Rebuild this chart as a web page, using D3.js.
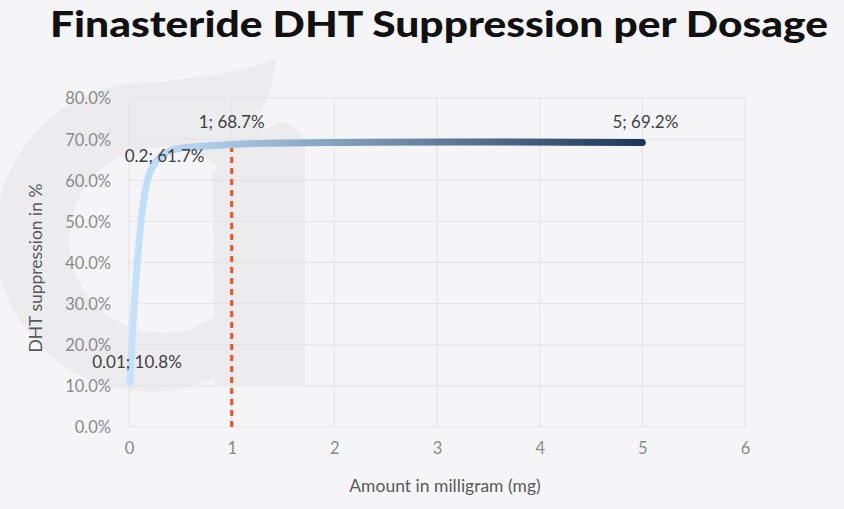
<!DOCTYPE html>
<html>
<head>
<meta charset="utf-8">
<script src="https://cdn.jsdelivr.net/npm/d3@7"></script>
<style>
  body { margin: 0; background: #f5f5f7; }
  svg { display: block; }
</style>
</head>
<body>
<div id="chart"></div>
<script>
// data
var doses = [0.01, 0.2, 1, 5];            // mg
var suppression = [10.8, 61.7, 68.7, 69.2]; // %
var pointLabels = ["0.01; 10.8%", "0.2; 61.7%", "1; 68.7%", "5; 69.2%"];
var xTicks = [0, 1, 2, 3, 4, 5, 6];
var yTicks = [0, 10, 20, 30, 40, 50, 60, 70, 80];
var markerDose = 1;

// label nudges (px) relative to each point
var labelDx = [7, 15, 0, 3];
var labelDy = [-15, -11, -16, -14];

var width = 844, height = 509;
var margin = {left: 129, right: 99, top: 98, bottom: 82};

var svg = d3.select("#chart").append("svg")
  .attr("width", width)
  .attr("height", height)
  .style("background", "#f5f5f7");

// faint watermark logo behind the chart
var wm = svg.append("g").attr("fill", "#ececee");
wm.append("circle").attr("cx", 150).attr("cy", 237).attr("r", 155);
wm.append("circle").attr("cx", 162).attr("cy", 240).attr("r", 93).attr("fill", "#f5f5f7");
wm.append("path").attr("d", "M150,84 C200,76 250,72 276,58 C272,95 262,118 244,134 L205,150 Z");
wm.append("path").attr("d", "M212,172 C235,150 262,128 282,122 C296,126 305,136 305,150 L305,385 L215,385 Z");

var x = d3.scaleLinear().domain([0, 6]).range([margin.left, width - margin.right]);
var y = d3.scaleLinear().domain([0, 80]).range([height - margin.bottom, margin.top]);

// gridlines
svg.append("g")
  .selectAll("line")
  .data(yTicks)
  .enter().append("line")
  .attr("x1", x(0)).attr("x2", x(6))
  .attr("y1", function (d) { return y(d) }).attr("y2", function (d) { return y(d) })
  .attr("stroke", "#e4e4e7").attr("stroke-width", 1);
svg.append("g")
  .selectAll("line")
  .data(xTicks)
  .enter().append("line")
  .attr("y1", y(0)).attr("y2", y(80))
  .attr("x1", function (d) { return x(d) }).attr("x2", function (d) { return x(d) })
  .attr("stroke", "#e4e4e7").attr("stroke-width", 1);

// axes (labels only)
var yAxis = svg.append("g")
  .attr("transform", "translate(" + (x(0) - 15) + ",0)")
  .call(d3.axisLeft(y).tickValues(yTicks).tickSize(0).tickFormat(function (d) { return d3.format(".1f")(d) + "%" }));
var xAxis = svg.append("g")
  .attr("transform", "translate(0," + (y(0) + 12) + ")")
  .call(d3.axisBottom(x).tickValues(xTicks).tickSize(0).tickFormat(d3.format("d")));
[yAxis, xAxis].forEach(function (a) {
  a.select(".domain").remove();
  a.selectAll("text")
    .attr("fill", "#8a8a8c")
    .style("font-family", "Lato, sans-serif")
    .style("font-size", "16.5px");
});
yAxis.selectAll("text").attr("dy", "0.36em");

// dashed marker at 1 mg
svg.append("line")
  .attr("x1", x(markerDose)).attr("x2", x(markerDose))
  .attr("y1", y(0)).attr("y2", y(suppression[2]) + 3)
  .attr("stroke", "#f4511e")
  .attr("stroke-width", 3)
  .attr("stroke-dasharray", "6,5");

// gradient line
var grad = svg.append("defs").append("linearGradient")
  .attr("id", "lineGrad")
  .attr("gradientUnits", "userSpaceOnUse")
  .attr("x1", x(doses[0])).attr("x2", x(doses[3]))
  .attr("y1", 0).attr("y2", 0);
grad.append("stop").attr("offset", "0").attr("stop-color", "#c4e2fb");
grad.append("stop").attr("offset", "0.12").attr("stop-color", "#b2d2ef");
grad.append("stop").attr("offset", "1").attr("stop-color", "#1c3759");

var pts = doses.map(function (d, i) { return [d, suppression[i]] });
var line = d3.line()
  .x(function (d) { return x(d[0]) })
  .y(function (d) { return y(d[1]) })
  .curve(d3.curveCardinal.tension(0.3));

svg.append("path")
  .datum(pts)
  .attr("d", line)
  .attr("fill", "none")
  .attr("stroke", "url(#lineGrad)")
  .attr("stroke-width", 7)
  .attr("stroke-linecap", "round")
  .attr("stroke-linejoin", "round");

// point labels
svg.append("g")
  .selectAll("text")
  .data(pts)
  .enter().append("text")
  .attr("x", function (d, i) { return x(d[0]) + labelDx[i] })
  .attr("y", function (d, i) { return y(d[1]) + labelDy[i] })
  .attr("text-anchor", "middle")
  .attr("fill", "#404040")
  .style("font-family", "Lato, sans-serif")
  .style("font-size", "17px")
  .text(function (d, i) { return pointLabels[i] });

// titles
svg.append("text")
  .attr("x", 439).attr("y", 37)
  .attr("text-anchor", "middle")
  .attr("fill", "#111")
  .style("font-family", "Lato, sans-serif")
  .style("font-weight", "900")
  .style("font-size", "36px")
  .attr("textLength", 778)
  .attr("lengthAdjust", "spacingAndGlyphs")
  .text("Finasteride DHT Suppression per Dosage");

svg.append("text")
  .attr("x", 445).attr("y", 492)
  .attr("text-anchor", "middle")
  .attr("fill", "#595959")
  .style("font-family", "Lato, sans-serif")
  .style("font-size", "17.5px")
  .text("Amount in milligram (mg)");

svg.append("text")
  .attr("transform", "translate(42,268) rotate(-90)")
  .attr("text-anchor", "middle")
  .attr("fill", "#595959")
  .style("font-family", "Lato, sans-serif")
  .style("font-size", "17.5px")
  .text("DHT suppression in %");
</script>
</body>
</html>
